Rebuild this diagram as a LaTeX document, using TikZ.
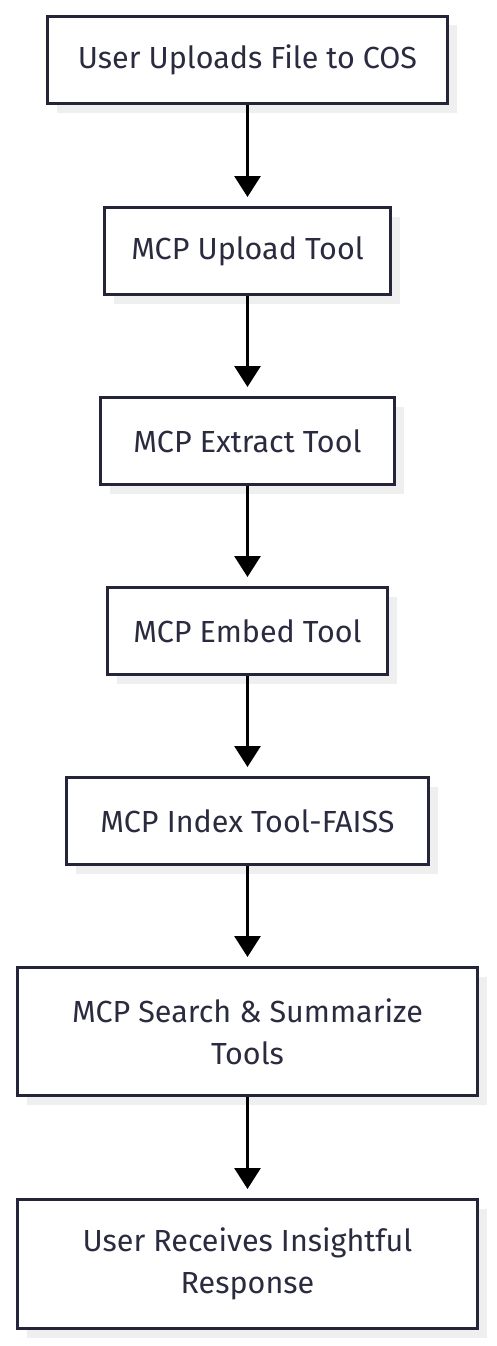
\documentclass[tikz,border=0pt]{standalone}
\usepackage{fontspec}
\setmainfont{Fira Sans}
\usetikzlibrary{shadows,arrows.meta}
\definecolor{boxline}{HTML}{25253A}
\definecolor{txt}{HTML}{2B2B40}
\definecolor{shd}{HTML}{EFEFEF}
\begin{document}
\begin{tikzpicture}[x=1pt,y=-1pt,
  box/.style={draw=boxline, line width=3pt, fill=white,
    general shadow={fill=shd, shadow xshift=9pt, shadow yshift=-9pt},
    inner sep=0pt, font=\fontsize{30.5}{42}\selectfont, text=txt, align=center},
  flow/.style={-{Triangle[width=26pt,length=21pt]}, line width=3pt, black, shorten >=9pt}]
\useasboundingbox (0,0) rectangle (496,1346);
\node[box, minimum width=400pt, minimum height=87pt] (b1) at (247.5,60) {User Uploads File to COS};
\node[box, minimum width=286pt, minimum height=87pt] (b2) at (247.5,251) {MCP Upload Tool};
\node[box, minimum width=294pt, minimum height=87pt] (b3) at (247.5,441) {MCP Extract Tool};
\node[box, minimum width=280pt, minimum height=87pt] (b4) at (247.5,631) {MCP Embed Tool};
\node[box, minimum width=362pt, minimum height=87pt] (b5) at (247.5,821) {MCP Index Tool-FAISS};
\node[box, minimum width=460pt, minimum height=128pt] (b6) at (247.5,1031.5) {MCP Search \& Summarize\\Tools};
\node[box, minimum width=460pt, minimum height=129pt] (b7) at (247.5,1264) {User Receives Insightful\\Response};
\draw[flow] (b1.south) -- (b2.north);
\draw[flow] (b2.south) -- (b3.north);
\draw[flow] (b3.south) -- (b4.north);
\draw[flow] (b4.south) -- (b5.north);
\draw[flow] (b5.south) -- (b6.north);
\draw[flow] (b6.south) -- (b7.north);
\end{tikzpicture}
\end{document}
